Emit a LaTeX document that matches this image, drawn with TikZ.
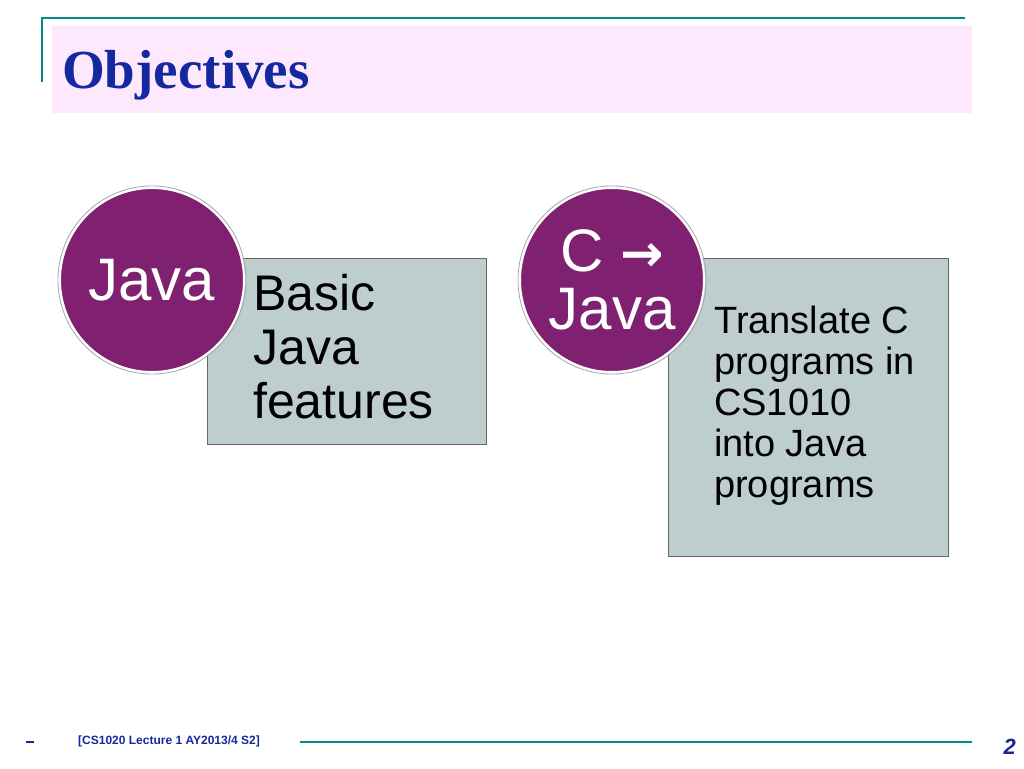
\documentclass[tikz,border=0pt]{standalone}
\usepackage{fontspec}
\setmainfont{Liberation Sans}
\newfontfamily\titlefont{Liberation Serif}
\newfontfamily\arrowfont{DejaVu Sans}
\usepackage{tikz}
\definecolor{teal1}{RGB}{0,140,140}
\definecolor{pinkbg}{RGB}{253,232,253}
\definecolor{navy1}{RGB}{20,40,160}
\definecolor{boxfill}{RGB}{190,205,205}
\definecolor{purp}{RGB}{128,32,112}
\tikzset{
  obox/.style={draw=gray!80!black,fill=boxfill},
  bubble/.style={circle,draw=white,line width=2pt,fill=purp,minimum size=184pt,inner sep=0pt,text=white,align=center,font=\fontsize{60}{58}\selectfont},
  ring/.style={draw=gray!70,line width=0.8pt},
}
\begin{document}
\begin{tikzpicture}[x=1pt,y=-1pt]
\useasboundingbox (0,0) rectangle (1024,768);

% header
\fill[pinkbg] (52,26) rectangle (972,113);
\draw[teal1,line width=1.2pt] (42,82) -- (42,18) -- (965,18);
\node[anchor=base west,text=navy1,inner sep=0pt,font=\titlefont\bfseries\fontsize{55}{58}\selectfont] (title) at (62,88) {Objectives};

% left item
\draw[obox] (207,258) rectangle (486,444);
\node[anchor=north west,align=left,inner sep=0pt,font=\fontsize{50}{54}\selectfont] (basic) at (253,274) {Basic\\Java\\features};
\draw[ring] (152,280) circle (94);
\node[bubble] (java) at (152,280) {Java};

% right item
\draw[obox] (668,258) rectangle (948,556);
\node[anchor=north west,align=left,inner sep=0pt,font=\fontsize{38}{41}\selectfont] (trans) at (714,306) {Translate C\\programs in\\CS1010\\into Java\\programs};
\draw[ring] (612,280) circle (94);
\node[bubble] (cjava) at (612,280) {C {\arrowfont\bfseries\fontsize{52}{50}\selectfont →}\\Java};

% footer
\draw[navy1,line width=1.5pt] (26,742) -- (34,742);
\node[anchor=west,text=navy1,inner sep=0pt,font=\bfseries\fontsize{12}{13}\selectfont] (foot) at (78,741) {[CS1020 Lecture 1 AY2013/4 S2]};
\draw[teal1,line width=1.2pt] (300,742) -- (972,742);
\node[anchor=base east,text=navy1,inner sep=0pt,font=\bfseries\itshape\fontsize{22}{24}\selectfont] (page) at (1016,754) {2};
\end{tikzpicture}
\end{document}
